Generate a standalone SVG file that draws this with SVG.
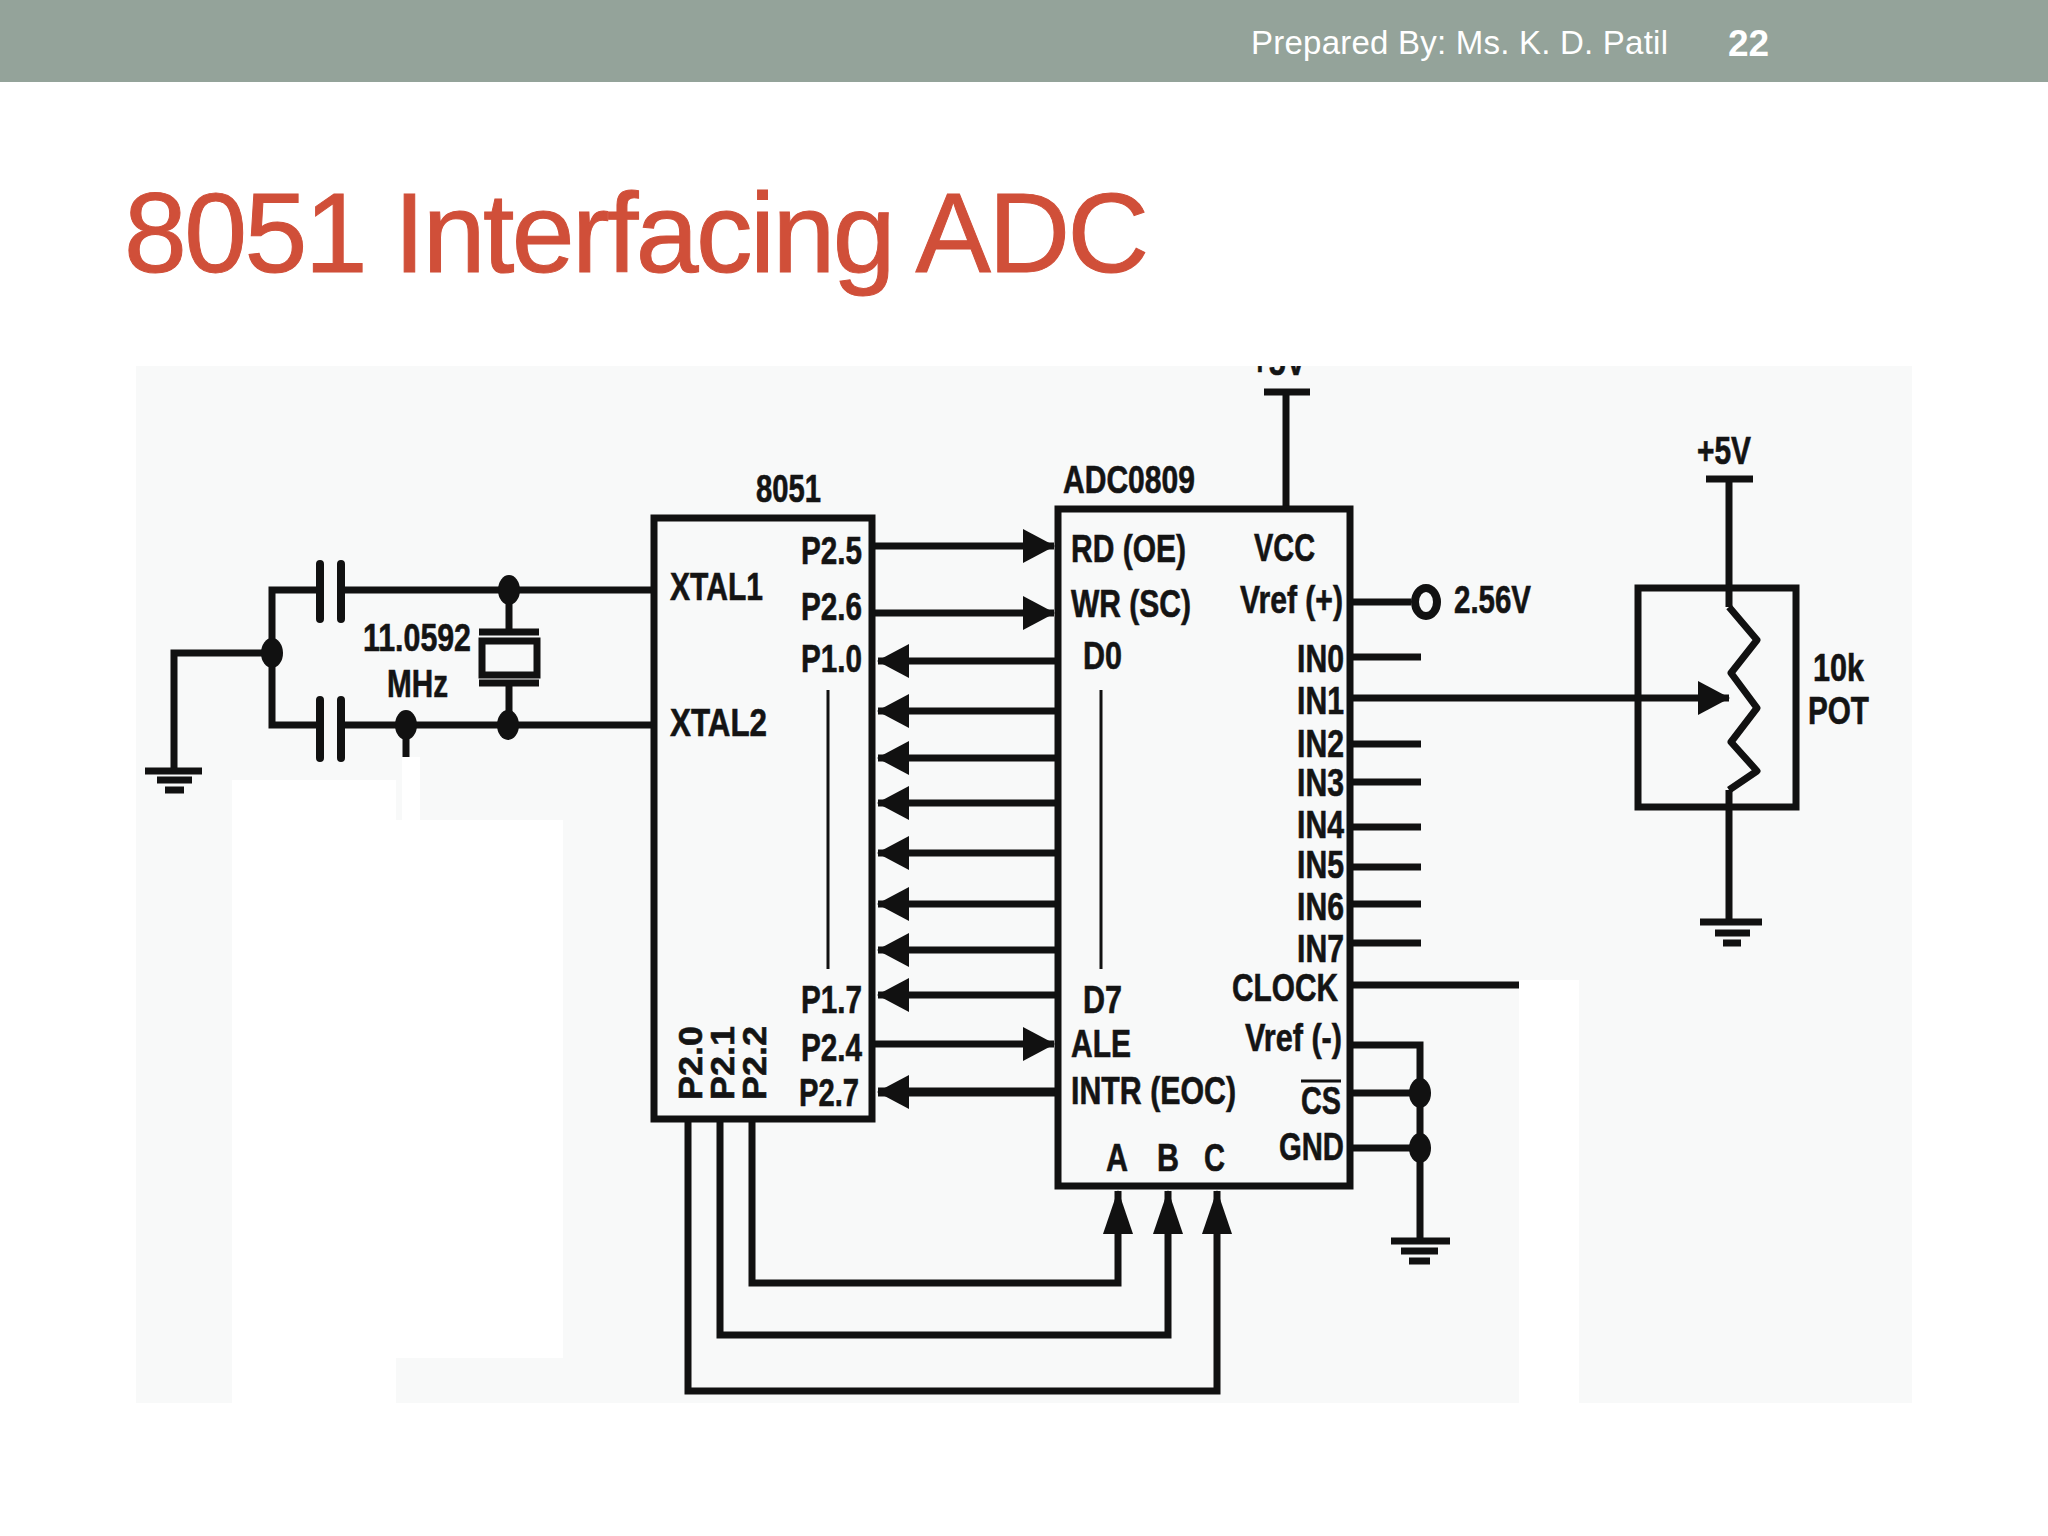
<svg xmlns="http://www.w3.org/2000/svg" width="2048" height="1536" viewBox="0 0 2048 1536">
<style>
text{font-family:"Liberation Sans",Arial,sans-serif}
.t{font-weight:700;font-size:38px;fill:#141414;stroke:#141414;stroke-width:.6}
.w{fill:none;stroke:#111;stroke-width:7;stroke-linejoin:miter}
.b{fill:none;stroke:#111;stroke-width:7}
.thin{fill:none;stroke:#111;stroke-width:3}
.p{fill:none;stroke:#111;stroke-width:8;stroke-linecap:round}
.g{fill:none;stroke:#111;stroke-width:7}
.d{fill:#111}
.wh{fill:#fff}
.aw{fill:none;stroke:#111;stroke-width:7;marker-end:url(#ah)}
.au{fill:none;stroke:#111;stroke-width:7;marker-end:url(#au)}
</style>
<defs>
<marker id="ah" markerUnits="userSpaceOnUse" viewBox="0 0 32 34" refX="31" refY="17" markerWidth="32" markerHeight="34" orient="auto"><path d="M0 0L32 17L0 34z" fill="#111"/></marker>
<marker id="au" markerUnits="userSpaceOnUse" viewBox="0 0 44 30" refX="43" refY="15" markerWidth="44" markerHeight="30" orient="auto"><path d="M0 0L44 15L0 30z" fill="#111"/></marker>
</defs>
<rect width="2048" height="1536" fill="#fff"/>
<rect id="header-bar" width="2048" height="82" fill="#94A39A"/>
<text x="1251" y="54" font-size="33" fill="#fff" textLength="417" lengthAdjust="spacing">Prepared By: Ms. K. D. Patil</text>
<text x="1728" y="56" font-size="37" font-weight="700" fill="#fff">22</text>
<text x="124" y="272" font-size="113" fill="#D04F39" stroke="#D04F39" stroke-width="1" textLength="1025" lengthAdjust="spacing">8051 Interfacing ADC</text>
<rect id="scan-background" x="136" y="366" width="1776" height="1037" fill="#F8F9F9"/>

<g id="connectors">
<path class="w" d="M174 771V653H272"/>
<path class="w" d="M316 590H272V725H316"/>
<path class="w" d="M341 590H654"/>
<path class="w" d="M341 725H654"/>
<path class="w" d="M509 590V632"/>
<path class="w" d="M509 683V725"/>
<path class="w" d="M406 725V757"/>
<path class="aw" d="M872 546H1054"/>
<path class="aw" d="M872 613H1054"/>
<path class="aw" d="M872 1044H1054"/>
<path class="aw" d="M1058 661H878"/>
<path class="aw" d="M1058 711H878"/>
<path class="aw" d="M1058 758H878"/>
<path class="aw" d="M1058 803H878"/>
<path class="aw" d="M1058 853H878"/>
<path class="aw" d="M1058 904H878"/>
<path class="aw" d="M1058 950H878"/>
<path class="aw" d="M1058 995H878"/>
<path class="aw" style="stroke-width:9" d="M1058 1092H878"/>
<path class="thin" d="M828 690V969"/>
<path class="thin" d="M1101 690V969"/>
<path class="w" d="M1286 392V509"/>
<path class="w" d="M1350 602H1411"/>
<path class="w" d="M1350 657H1421"/>
<path class="w" d="M1350 744H1421"/>
<path class="w" d="M1350 782H1421"/>
<path class="w" d="M1350 827H1421"/>
<path class="w" d="M1350 867H1421"/>
<path class="w" d="M1350 904H1421"/>
<path class="w" d="M1350 943H1421"/>
<path class="aw" d="M1350 698H1729"/>
<path class="w" d="M1350 985H1519"/>
<path class="w" d="M1350 1045H1420V1241"/>
<path class="w" d="M1350 1093H1420"/>
<path class="w" d="M1350 1148H1420"/>
<path class="w" d="M1729 479V607"/>
<path class="w" d="M1729 790V922"/>
<path class="au" d="M752 1119V1283H1118V1191"/>
<path class="au" d="M720 1119V1335H1168V1191"/>
<path class="au" d="M688 1119V1391H1217V1191"/>
</g>

<g id="junctions">
<ellipse class="d" cx="272" cy="653" rx="11" ry="15"/>
<ellipse class="d" cx="509" cy="590" rx="11" ry="15"/>
<ellipse class="d" cx="508" cy="725" rx="11" ry="15"/>
<ellipse class="d" cx="406" cy="725" rx="11" ry="15"/>
<ellipse class="d" cx="1420" cy="1093" rx="11" ry="15"/>
<ellipse class="d" cx="1420" cy="1148" rx="11" ry="15"/>
</g>

<g id="cap-top"><path class="p" d="M320 564V619M341 564V619"/></g>
<g id="cap-bottom"><path class="p" d="M320 700V758M341 700V758"/></g>
<g id="crystal">
<path class="g" d="M479 632H539M479 683H539"/>
<rect class="g" x="482" y="641" width="55" height="34"/>
<text class="t" x="363" y="651" textLength="108" lengthAdjust="spacingAndGlyphs">11.0592</text>
<text class="t" x="387" y="697" textLength="61" lengthAdjust="spacingAndGlyphs">MHz</text>
</g>
<g id="ground-left"><path class="g" d="M145 771H202M157 780H192M165 790H184"/></g>

<g id="chip-8051">
<rect class="b" x="654" y="518" width="218" height="601"/>
<text class="t" x="756" y="502" textLength="65" lengthAdjust="spacingAndGlyphs">8051</text>
<text class="t" x="670" y="600" textLength="93" lengthAdjust="spacingAndGlyphs">XTAL1</text>
<text class="t" x="670" y="736" textLength="97" lengthAdjust="spacingAndGlyphs">XTAL2</text>
<text class="t" x="801" y="564" textLength="61" lengthAdjust="spacingAndGlyphs">P2.5</text>
<text class="t" x="801" y="620" textLength="61" lengthAdjust="spacingAndGlyphs">P2.6</text>
<text class="t" x="801" y="672" textLength="61" lengthAdjust="spacingAndGlyphs">P1.0</text>
<text class="t" x="801" y="1013" textLength="61" lengthAdjust="spacingAndGlyphs">P1.7</text>
<text class="t" x="801" y="1061" textLength="61" lengthAdjust="spacingAndGlyphs">P2.4</text>
<text class="t" x="799" y="1106" textLength="60" lengthAdjust="spacingAndGlyphs">P2.7</text>
<text class="t" style="font-size:34px" transform="rotate(-90 702 1100)" x="702" y="1100" textLength="74" lengthAdjust="spacingAndGlyphs">P2.0</text>
<text class="t" style="font-size:34px" transform="rotate(-90 734 1100)" x="734" y="1100" textLength="74" lengthAdjust="spacingAndGlyphs">P2.1</text>
<text class="t" style="font-size:34px" transform="rotate(-90 766 1100)" x="766" y="1100" textLength="74" lengthAdjust="spacingAndGlyphs">P2.2</text>
</g>

<g id="chip-adc0809">
<rect class="b" x="1058" y="509" width="292" height="677"/>
<text class="t" x="1063" y="493" textLength="132" lengthAdjust="spacingAndGlyphs">ADC0809</text>
<text class="t" x="1071" y="562" textLength="115" lengthAdjust="spacingAndGlyphs">RD (OE)</text>
<text class="t" x="1071" y="617" textLength="120" lengthAdjust="spacingAndGlyphs">WR (SC)</text>
<text class="t" x="1083" y="669" textLength="39" lengthAdjust="spacingAndGlyphs">D0</text>
<text class="t" x="1083" y="1013" textLength="39" lengthAdjust="spacingAndGlyphs">D7</text>
<text class="t" x="1071" y="1057" textLength="60" lengthAdjust="spacingAndGlyphs">ALE</text>
<text class="t" x="1071" y="1104" textLength="165" lengthAdjust="spacingAndGlyphs">INTR (EOC)</text>
<text class="t" x="1106" y="1171" textLength="22" lengthAdjust="spacingAndGlyphs">A</text>
<text class="t" x="1157" y="1171" textLength="22" lengthAdjust="spacingAndGlyphs">B</text>
<text class="t" x="1204" y="1171" textLength="21" lengthAdjust="spacingAndGlyphs">C</text>
<text class="t" x="1254" y="561" textLength="61" lengthAdjust="spacingAndGlyphs">VCC</text>
<text class="t" x="1240" y="613" textLength="103" lengthAdjust="spacingAndGlyphs">Vref (+)</text>
<text class="t" x="1297" y="672" textLength="47" lengthAdjust="spacingAndGlyphs">IN0</text>
<text class="t" x="1297" y="714" textLength="47" lengthAdjust="spacingAndGlyphs">IN1</text>
<text class="t" x="1297" y="757" textLength="47" lengthAdjust="spacingAndGlyphs">IN2</text>
<text class="t" x="1297" y="796" textLength="47" lengthAdjust="spacingAndGlyphs">IN3</text>
<text class="t" x="1297" y="838" textLength="47" lengthAdjust="spacingAndGlyphs">IN4</text>
<text class="t" x="1297" y="878" textLength="47" lengthAdjust="spacingAndGlyphs">IN5</text>
<text class="t" x="1297" y="920" textLength="47" lengthAdjust="spacingAndGlyphs">IN6</text>
<text class="t" x="1297" y="962" textLength="47" lengthAdjust="spacingAndGlyphs">IN7</text>
<text class="t" x="1232" y="1001" textLength="106" lengthAdjust="spacingAndGlyphs">CLOCK</text>
<text class="t" x="1245" y="1051" textLength="97" lengthAdjust="spacingAndGlyphs">Vref (-)</text>
<text class="t" x="1301" y="1114" textLength="40" lengthAdjust="spacingAndGlyphs">CS</text>
<path class="g" style="stroke-width:3" d="M1301 1081H1341"/>
<text class="t" x="1279" y="1160" textLength="65" lengthAdjust="spacingAndGlyphs">GND</text>
</g>

<g id="vref-terminal">
<ellipse cx="1426" cy="602" rx="11" ry="14" fill="none" stroke="#111" stroke-width="8"/>
<text class="t" x="1454" y="613" textLength="77" lengthAdjust="spacingAndGlyphs">2.56V</text>
</g>
<g id="vcc-adc">
<text class="t" x="1251" y="375" textLength="55" lengthAdjust="spacingAndGlyphs">+5V</text>
<path class="g" d="M1264 392H1310"/>
</g>
<g id="ground-adc"><path class="g" d="M1391 1241H1450M1401 1251H1438M1409 1261H1430"/></g>
<g id="pot">
<rect class="b" x="1638" y="588" width="158" height="219"/>
<path class="w" style="stroke-linejoin:round" d="M1729 607L1757 640L1731 673L1757 708L1731 742L1757 771L1729 790"/>
<text class="t" x="1813" y="681" textLength="51" lengthAdjust="spacingAndGlyphs">10k</text>
<text class="t" x="1808" y="724" textLength="61" lengthAdjust="spacingAndGlyphs">POT</text>
</g>
<g id="vcc-pot">
<text class="t" x="1697" y="464" textLength="54" lengthAdjust="spacingAndGlyphs">+5V</text>
<path class="g" d="M1706 479H1753"/>
</g>
<g id="ground-pot"><path class="g" d="M1700 922H1762M1715 933H1750M1723 943H1741"/></g>

<g id="white-patches">
<rect class="wh" x="0" y="340" width="2048" height="26"/>
<rect class="wh" x="232" y="780" width="164" height="623"/>
<rect class="wh" x="396" y="820" width="167" height="538"/>
<rect class="wh" x="402" y="757" width="18" height="63"/>
<rect class="wh" x="1519" y="980" width="60" height="423"/>
</g>
</svg>
